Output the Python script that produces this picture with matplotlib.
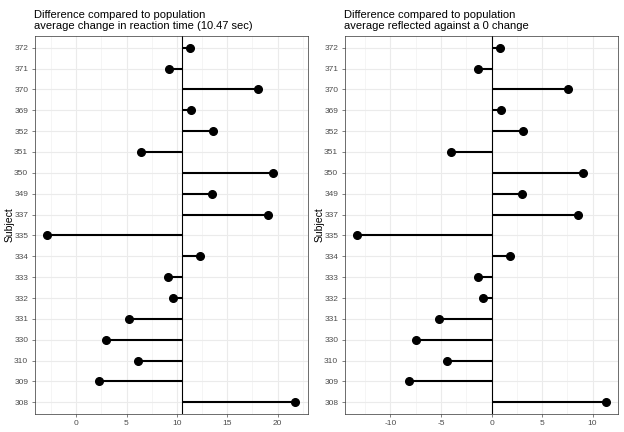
import matplotlib.pyplot as plt
from matplotlib.ticker import MultipleLocator

plt.rcParams['font.family'] = ['Liberation Sans', 'DejaVu Sans']
plt.rcParams['axes.unicode_minus'] = False

subjects = ['308', '309', '310', '330', '331', '332', '333', '334', '335',
            '337', '349', '350', '351', '352', '369', '370', '371', '372']
change = [21.76, 2.29, 6.11, 3.01, 5.26, 9.58, 9.15, 12.29, -2.86,
          19.02, 13.51, 19.51, 6.44, 13.57, 11.36, 18.03, 9.18, 11.30]
pop_mean = 10.47
diff = [c - pop_mean for c in change]

titles = ["Difference compared to population\naverage change in reaction time (10.47 sec)",
          "Difference compared to population\naverage reflected against a 0 change"]

fig = plt.figure(figsize=(6.24, 4.32), dpi=100)
ax1 = fig.add_axes([34.5 / 624, 18 / 432, 273 / 624, 378 / 432])
ax2 = fig.add_axes([344.5 / 624, 18 / 432, 273 / 624, 378 / 432])

panels = [(ax1, change, pop_mean, (-4.14, 22.98)),
          (ax2, diff, 0.0, (-14.55, 12.47))]

y = list(range(len(subjects)))
for i, (ax, vals, base, xlim) in enumerate(panels):
    ax.set_axisbelow(True)
    ax.xaxis.set_major_locator(MultipleLocator(5))
    ax.xaxis.set_minor_locator(MultipleLocator(2.5))
    ax.grid(which='major', color='#EBEBEB', lw=0.8)
    ax.grid(which='minor', axis='x', color='#F2F2F2', lw=0.5)
    ax.axvline(base, color='black', lw=0.8, zorder=2)
    ax.hlines(y, base, vals, color='black', lw=1.5, zorder=3)
    ax.plot(vals, y, 'o', color='black', ms=5.5, zorder=4)
    ax.set_xlim(*xlim)
    ax.set_ylim(-0.56, len(subjects) - 1 + 0.56)
    ax.set_yticks(y)
    ax.set_yticklabels(subjects)
    ax.tick_params(which='major', labelsize=6, colors='#4D4D4D', length=2.5,
                   width=0.5, pad=2)
    ax.tick_params(which='minor', length=0)
    for s in ax.spines.values():
        s.set_color('#333333')
        s.set_linewidth(0.5)
    ax.set_ylabel('Subject', fontsize=7.5)
    ax.yaxis.set_label_coords(-0.072, 0.5)
    ax.set_title(titles[i], loc='left', fontsize=8, pad=5, linespacing=1.1)

fig.savefig('out.png', dpi=100)
